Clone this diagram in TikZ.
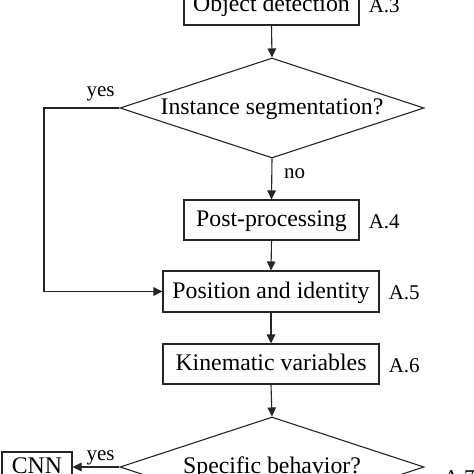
\documentclass[tikz,border=0pt]{standalone}
\usepackage{fontspec}
\setmainfont{Liberation Serif}
\usetikzlibrary{shapes.geometric,arrows.meta}
\begin{document}
\begin{tikzpicture}[x=1pt,y=-1pt,
  line/.style={draw=black!85,line width=1.1pt},
  arr/.style={line,-{Triangle[length=9pt,width=8.5pt]}},
  stepbox/.style={line,rectangle,inner sep=0pt,font=\fontsize{23.8}{28}\selectfont,
    text height=16.5pt,text depth=3.5pt},
  decision/.style={line,diamond,inner sep=0pt,aspect=3.04,minimum width=304pt,
    minimum height=100pt,font=\fontsize{23.8}{28}\selectfont,
    text height=16.5pt,text depth=3pt},
  tag/.style={inner sep=0pt,font=\fontsize{21}{25}\selectfont}]
\fill[white] (0,0) rectangle (474,474);
\useasboundingbox (0,0) rectangle (474,474);
\node[stepbox,minimum width=175pt,minimum height=41pt] (od) at (271.5,4.5) {Object detection};
\node[decision] (d1) at (272,108) {Instance segmentation?};
\node[stepbox,minimum width=175pt,minimum height=40pt] (pp) at (271.5,220) {Post-processing};
\node[stepbox,minimum width=216pt,minimum height=41pt] (pos) at (271,291.5) {Position and identity};
\node[stepbox,minimum width=216pt,minimum height=40pt] (kin) at (271,364) {Kinematic variables};
\node[decision] (d2) at (272,467) {Specific behavior?};
\node[stepbox,minimum width=70pt,minimum height=30pt] (cnn) at (37,467) {CNN};
\node[tag,anchor=west] (a3) at ([xshift=9pt,yshift=-1.5pt]od.east) {A.3};
\node[tag,anchor=west] (a4) at ([xshift=9pt,yshift=-1.5pt]pp.east) {A.4};
\node[tag,anchor=west] (a5) at ([xshift=9pt,yshift=-1.5pt]pos.east) {A.5};
\node[tag,anchor=west] (a6) at ([xshift=9pt,yshift=-1.5pt]kin.east) {A.6};
\node[tag,anchor=west] (a7) at ([xshift=19pt,yshift=-11pt]d2.east) {A.7};
\node[tag] (yes1) at (100.5,93.5) {yes};
\node[tag] (no1) at (294.5,174) {no};
\node[tag] (yes2) at (100.5,457.5) {yes};
\coordinate (loop) at (44,108);
\draw[arr] (od.south) -- (d1.north);
\draw[arr] (d1.south) -- (pp.north);
\draw[arr] (pp.south) -- (pos.north);
\draw[arr] (pos.south) -- (kin.north);
\draw[arr] (kin.south) -- (d2.north);
\draw[arr] (d1.west) -- (loop) |- (pos.west);
\draw[arr] (d2.west) -- (cnn.east);
\end{tikzpicture}
\end{document}
